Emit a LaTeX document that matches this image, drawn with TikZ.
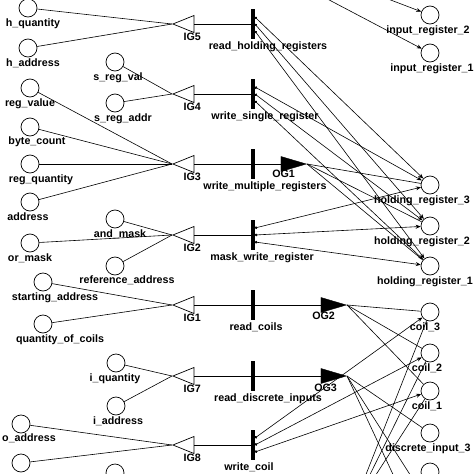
\documentclass[tikz,border=0pt]{standalone}
\usepackage{fontspec}
\setmainfont{Liberation Sans}
\usetikzlibrary{positioning,arrows,arrows.meta,shapes.geometric}

\begin{document}
\begin{tikzpicture}[
x=1pt, y=-1pt,
placenode/.style={circle, draw=black, fill=white, line width=0.7pt, minimum size=18pt, inner sep=0pt},
barnode/.style={rectangle, fill=black, minimum width=3.4pt, minimum height=30pt, inner sep=0pt},
ingate/.style={isosceles triangle, isosceles triangle apex angle=44, shape border rotate=180, draw=black, fill=white, line width=0.7pt, minimum size=17pt, inner sep=0pt, anchor=apex},
outgate/.style={isosceles triangle, isosceles triangle apex angle=33, draw=black, fill=black, minimum size=15pt, inner sep=0pt, anchor=apex},
txt/.style={font=\fontsize{10.7}{12}\selectfont\bfseries, inner sep=0pt},
arc/.style={line width=0.6pt},
readarc/.style={line width=0.6pt, {Circle[length=2.6pt]}-{Stealth[length=5pt, width=4pt]}},
inarc/.style={line width=0.6pt, -{Stealth[length=5pt, width=4pt]}}
]
    \useasboundingbox (0,0) rectangle (474,474);
    \fill[white] (0,0) rectangle (474,474);
    \clip (0,0) rectangle (474,474);

    %Places left
    \node[placenode] (hq) at (28,8) {};
    \node[txt, below=1pt of hq, xshift=5pt] {h\_quantity};
    \node[placenode] (ha) at (28,48) {};
    \node[txt, below=1pt of ha, xshift=5pt] {h\_address};
    \node[placenode] (srv) at (115,62) {};
    \node[txt, below=1pt of srv, xshift=3pt] {s\_reg\_val};
    \node[placenode] (rv) at (30,88) {};
    \node[txt, below=1pt of rv] {reg\_value};
    \node[placenode] (sra) at (115,103) {};
    \node[txt, below=1pt of sra, xshift=8pt] {s\_reg\_addr};
    \node[placenode] (bc) at (30,127) {};
    \node[txt, below=0pt of bc, xshift=7pt] {byte\_count};
    \node[placenode] (rq) at (30,164) {};
    \node[txt, below=1pt of rq, xshift=11pt] {reg\_quantity};
    \node[placenode] (addr) at (30,202) {};
    \node[txt, below=1pt of addr, xshift=-2pt] {address};
    \node[placenode] (am) at (115,219) {};
    \node[txt, below=1pt of am, xshift=5pt] {and\_mask};
    \node[placenode] (om) at (30,243) {};
    \node[txt, below=1pt of om] {or\_mask};
    \node[placenode] (ra) at (115,266) {};
    \node[txt, below=0pt of ra, xshift=12pt] {reference\_address};
    \node[placenode] (sa) at (43,282) {};
    \node[txt, below=1pt of sa, xshift=12pt] {starting\_address};
    \node[placenode] (qc) at (43,324) {};
    \node[txt, below=1pt of qc, xshift=17pt] {quantity\_of\_coils};
    \node[placenode] (iq) at (116,363) {};
    \node[txt, below=1pt of iq, xshift=-1pt] {i\_quantity};
    \node[placenode] (ia) at (116,406) {};
    \node[txt, below=1pt of ia, xshift=2pt] {i\_address};
    \node[placenode] (oa) at (21,424) {};
    \node[txt, below=0pt of oa, xshift=8pt] {o\_address};
    \node[placenode] (bl1) at (21,463) {};
    \node[placenode] (bl2) at (115,473) {};

    %Input gates
    \node[ingate] (ig5) at (172,24) {};
    \node[txt, below=2pt of ig5, xshift=4pt] {IG5};
    \node[ingate] (ig4) at (172,94) {};
    \node[txt, below=2pt of ig4, xshift=4pt] {IG4};
    \node[ingate] (ig3) at (172,164) {};
    \node[txt, below=2pt of ig3, xshift=4pt] {IG3};
    \node[ingate] (ig2) at (172,235) {};
    \node[txt, below=2pt of ig2, xshift=4pt] {IG2};
    \node[ingate] (ig1) at (172,305) {};
    \node[txt, below=2pt of ig1, xshift=4pt] {IG1};
    \node[ingate] (ig7) at (172,376) {};
    \node[txt, below=2pt of ig7, xshift=4pt] {IG7};
    \node[ingate] (ig8) at (172,445) {};
    \node[txt, below=2pt of ig8, xshift=4pt] {IG8};

    %Transitions
    \node[barnode] (rhr) at (253,24) {};
    \node[txt, below=2pt of rhr, xshift=15pt] {read\_holding\_registers};
    \node[barnode] (wsr) at (253,94) {};
    \node[txt, below=2pt of wsr, xshift=12pt] {write\_single\_register};
    \node[barnode] (wmr) at (253,164) {};
    \node[txt, below=2pt of wmr, xshift=12pt] {write\_multiple\_registers};
    \node[barnode] (mwr) at (253,235) {};
    \node[txt, below=2pt of mwr, xshift=9pt] {mask\_write\_register};
    \node[barnode] (rc) at (253,305) {};
    \node[txt, below=2pt of rc, xshift=3pt] {read\_coils};
    \node[barnode] (rdi) at (253,376) {};
    \node[txt, below=2pt of rdi, xshift=15pt] {read\_discrete\_inputs};
    \node[barnode] (wc) at (253,445) {};
    \node[txt, below=2pt of wc, xshift=-4pt] {write\_coil};

    %Output gates
    \node[outgate] (og1) at (307,164) {};
    \node[txt, below=0pt of og1, xshift=-3pt] {OG1};
    \node[outgate] (og2) at (347,305) {};
    \node[txt, below=1pt of og2, xshift=-3pt] {OG2};
    \node[outgate] (og3) at (347,376) {};
    \node[txt, below=2pt of og3, xshift=-1pt] {OG3};

    %Places right
    \node[placenode] (ir2) at (430,15) {};
    \node[txt, below=1pt of ir2, xshift=-2pt] {input\_register\_2};
    \node[placenode] (ir1) at (430,53) {};
    \node[txt, below=1pt of ir1, xshift=2pt] {input\_register\_1};
    \node[placenode] (hr3) at (430,185) {};
    \node[txt, below=1pt of hr3, xshift=-8pt] {holding\_register\_3};
    \node[placenode] (hr2) at (430,226) {};
    \node[txt, below=1pt of hr2, xshift=-8pt] {holding\_register\_2};
    \node[placenode] (hr1) at (430,266) {};
    \node[txt, below=1pt of hr1, xshift=-5pt] {holding\_register\_1};
    \node[placenode] (c3) at (430,312) {};
    \node[txt, below=1pt of c3, xshift=-5pt] {coil\_3};
    \node[placenode] (c2) at (430,353) {};
    \node[txt, below=1pt of c2, xshift=-3pt] {coil\_2};
    \node[placenode] (c1) at (430,391) {};
    \node[txt, below=1pt of c1, xshift=-3pt] {coil\_1};
    \node[placenode] (di3) at (430,433) {};
    \node[txt, below=1pt of di3, xshift=-2pt] {discrete\_input\_3};
    \node[placenode] (di2) at (430,472) {};

    %Ends outside the frame
    \coordinate (rira) at (257,-51);
    \coordinate (rirb) at (257,-38);
    \coordinate (og4) at (350,515);
    \coordinate (lowa) at (439,520);
    \coordinate (lowb) at (433,560);

    %Lines into input gates
    \draw[arc] (hq) -- (ig5.apex);
    \draw[arc] (ha) -- (ig5.apex);
    \draw[arc] (srv) -- (ig4.apex);
    \draw[arc] (sra) -- (ig4.apex);
    \draw[arc] (rv) -- (ig3.apex);
    \draw[arc] (bc) -- (ig3.apex);
    \draw[arc] (rq) -- (ig3.apex);
    \draw[arc] (addr) -- (ig3.apex);
    \draw[arc] (am) -- (ig2.apex);
    \draw[arc] (om) -- (ig2.apex);
    \draw[arc] (ra) -- (ig2.apex);
    \draw[arc] (sa) -- (ig1.apex);
    \draw[arc] (qc) -- (ig1.apex);
    \draw[arc] (iq) -- (ig7.apex);
    \draw[arc] (ia) -- (ig7.apex);
    \draw[arc] (oa) -- (ig8.apex);
    \draw[arc] (bl1) -- (ig8.apex);

    %Gates to transitions
    \draw[arc] (ig5.lower side) -- (rhr);
    \draw[arc] (ig4.lower side) -- (wsr);
    \draw[arc] (ig3.lower side) -- (wmr);
    \draw[arc] (ig2.lower side) -- (mwr);
    \draw[arc] (ig1.lower side) -- (rc);
    \draw[arc] (ig7.lower side) -- (rdi);
    \draw[arc] (ig8.lower side) -- (wc);
    \draw[arc] (wmr) -- (og1);
    \draw[arc] (rc) -- (og2);
    \draw[arc] (rdi) -- (og3);

    %Lines to registers
    \draw[readarc] ([yshift=7pt]rhr.east) -- (hr3);
    \draw[readarc] (rhr.east) -- (hr2);
    \draw[readarc] ([yshift=-7pt]rhr.east) -- (hr1);
    \draw[readarc] ([yshift=7pt]wsr.east) -- (hr3);
    \draw[readarc] (wsr.east) -- (hr2);
    \draw[readarc] ([yshift=-7pt]wsr.east) -- (hr1);
    \draw[readarc] ([yshift=7pt]mwr.east) -- (hr3);
    \draw[readarc] (mwr.east) -- (hr2);
    \draw[readarc] ([yshift=-7pt]mwr.east) -- (hr1);
    \draw[arc] (og1.apex) -- (hr3);
    \draw[arc] (og1.apex) -- (hr2);
    \draw[arc] (og1.apex) -- (hr1);
    \draw[inarc] (rira) -- (ir2);
    \draw[inarc] (rirb) -- (ir1);

    %Lines to coils and inputs
    \draw[arc] (og2.apex) -- (c3);
    \draw[arc] (og2.apex) -- (c2);
    \draw[arc] (og2.apex) -- (c1);
    \draw[arc] (og3.apex) -- (di3);
    \draw[arc] (og3.apex) -- (lowa);
    \draw[arc] (og3.apex) -- (lowb);
    \draw[readarc] ([yshift=7pt]wc.east) -- (c3);
    \draw[readarc] (wc.east) -- (c2);
    \draw[readarc] ([yshift=-7pt]wc.east) -- (c1);
    \draw[arc] (og4) -- (c3);
    \draw[arc] (og4) -- (c2);
    \draw[arc] (og4) -- (c1);
\end{tikzpicture}
\end{document}
